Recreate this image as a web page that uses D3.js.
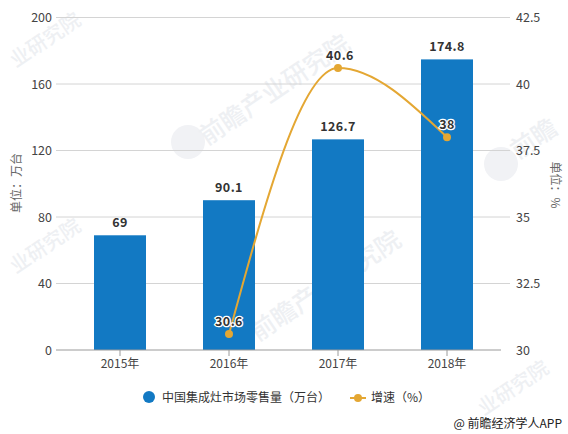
<!DOCTYPE html>
<html><head><meta charset="utf-8">
<script src="https://cdn.jsdelivr.net/npm/d3@7/dist/d3.min.js"></script>
<style>html,body{margin:0;padding:0;background:#fff}svg{display:block}text{font-family:"Noto Sans CJK SC","Noto Sans",sans-serif}</style>
</head><body><svg id="c" width="568" height="434"></svg>
<script>
const years = ["2015年","2016年","2017年","2018年"];
const sales = [69,90.1,126.7,174.8];
const growthYears = ["2016年","2017年","2018年"];
const growth = [30.6,40.6,38];
const leftTicks = [0,40,80,120,160,200];
const rightTicks = [30,32.5,35,37.5,40,42.5];
const salesName = "中国集成灶市场零售量（万台）";
const growthName = "增速（%）";
const wmFull = "前瞻产业研究院";
const wmTail = "业研究院";
const wmHead = "前瞻";

const svg = d3.select("#c");
const x = d3.scaleBand().domain(years).range([65.5,501.5]).paddingInner(0.523).paddingOuter(0.2615);
const yL = d3.scaleLinear().domain([0,200]).range([350,17.5]);
const yR = d3.scaleLinear().domain([30,42.5]).range([350,17.5]);
const cx = d => x(d)+x.bandwidth()/2;

// watermarks
const wmColor = "#eef0f3";
const wm = svg.append("g");
function mark(px,py,label,size){
  const g = wm.append("g").attr("transform",`translate(${px},${py}) rotate(-34)`);
  g.append("text").attr("font-size",size).attr("font-weight",500).attr("fill",wmColor).text(label);
}
function logo(px,py){ wm.append("circle").attr("cx",px).attr("cy",py).attr("r",17).attr("fill","#f1f2f5"); }
logo(188,142); mark(207,146,wmFull,25);
logo(501,164); mark(518,160,wmHead,25);
mark(258,342,wmFull,25);
mark(16,68,wmTail,20);
mark(16,274,wmTail,20);
mark(484,416,wmTail,20);

// grid
svg.append("g").selectAll("line").data(leftTicks.slice(1)).join("line")
 .attr("x1",56).attr("x2",510).attr("y1",d=>yL(d)).attr("y2",d=>yL(d))
 .attr("stroke","#d4d4d4").attr("stroke-width",1);

// bars
svg.append("g").selectAll("rect").data(years).join("rect")
 .attr("x",d=>x(d)).attr("width",x.bandwidth())
 .attr("y",(d,i)=>yL(sales[i])).attr("height",(d,i)=>350-yL(sales[i]))
 .attr("fill","#1279c3");

// baseline + x ticks
const gx = svg.append("g").attr("transform","translate(0,350)").call(d3.axisBottom(x).tickSize(6).tickPadding(3));
gx.select(".domain").remove();
gx.append("line").attr("x1",56).attr("x2",501).attr("stroke","#9a9a9a");
gx.selectAll(".tick line").attr("stroke","#9a9a9a");
gx.selectAll("text").attr("font-size",12).attr("fill","#444").attr("font-family",'"Noto Sans CJK SC"');

// left/right axes
const gl = svg.append("g").attr("transform","translate(56,0)").call(d3.axisLeft(yL).tickValues(leftTicks).tickSize(0).tickPadding(4));
gl.select(".domain").remove();
gl.selectAll("text").attr("font-size",12.5).attr("fill","#444").attr("font-family",'"Noto Sans CJK SC"');
const gr = svg.append("g").attr("transform","translate(510,0)").call(d3.axisRight(yR).tickValues(rightTicks).tickFormat(d=>d).tickSize(0).tickPadding(6));
gr.select(".domain").remove();
gr.selectAll("text").attr("font-size",12.5).attr("fill","#444").attr("font-family",'"Noto Sans CJK SC"');

// axis titles
svg.append("text").attr("transform","translate(15,183) rotate(-90)").attr("text-anchor","middle").attr("dominant-baseline","central").attr("font-size",12).attr("fill","#666").text("单位：万台");
svg.append("text").attr("transform","translate(556,185) rotate(90)").attr("text-anchor","middle").attr("dominant-baseline","central").attr("font-size",12).attr("fill","#666").text("单位：%");

// line
const line = d3.line().x((d,i)=>cx(growthYears[i])).y(d=>yR(d)).curve(d3.curveMonotoneX);
svg.append("path").attr("d",line(growth)).attr("fill","none").attr("stroke","#e4a733").attr("stroke-width",2);
svg.append("g").selectAll("circle").data(growth).join("circle")
 .attr("cx",(d,i)=>cx(growthYears[i])).attr("cy",d=>yR(d)).attr("r",4).attr("fill","#e4a733");

// labels
svg.append("g").selectAll("text").data(sales).join("text")
 .attr("x",(d,i)=>cx(years[i])).attr("y",d=>yL(d)-8).attr("text-anchor","middle")
 .attr("font-size",12.5).attr("font-weight",700).attr("letter-spacing",.4).attr("fill","#333").text(d=>d);
svg.append("g").selectAll("text").data(growth).join("text")
 .attr("x",(d,i)=>cx(growthYears[i])+(i==1?2:0)).attr("y",d=>yR(d)-8).attr("text-anchor","middle")
 .attr("font-size",12.5).attr("font-weight",700).attr("letter-spacing",.4).attr("fill","#333")
 .attr("stroke","#fff").attr("stroke-width",2.5).attr("paint-order","stroke").text(d=>d);

// legend
const lg = svg.append("g");
lg.append("circle").attr("cx",149).attr("cy",397).attr("r",6).attr("fill","#1279c3");
lg.append("text").attr("x",162).attr("y",402).attr("font-size",12).attr("fill","#333").text(salesName);
lg.append("line").attr("x1",350).attr("x2",366).attr("y1",398).attr("y2",398).attr("stroke","#e4a733").attr("stroke-width",2);
lg.append("circle").attr("cx",358).attr("cy",398).attr("r",4).attr("fill","#e4a733");
lg.append("text").attr("x",371).attr("y",402).attr("font-size",12).attr("fill","#333").text(growthName);

// credit
svg.append("text").attr("x",562).attr("y",427.5).attr("text-anchor","end").attr("font-size",12).attr("fill","#222").text("@ 前瞻经济学人APP");
</script></body></html>
